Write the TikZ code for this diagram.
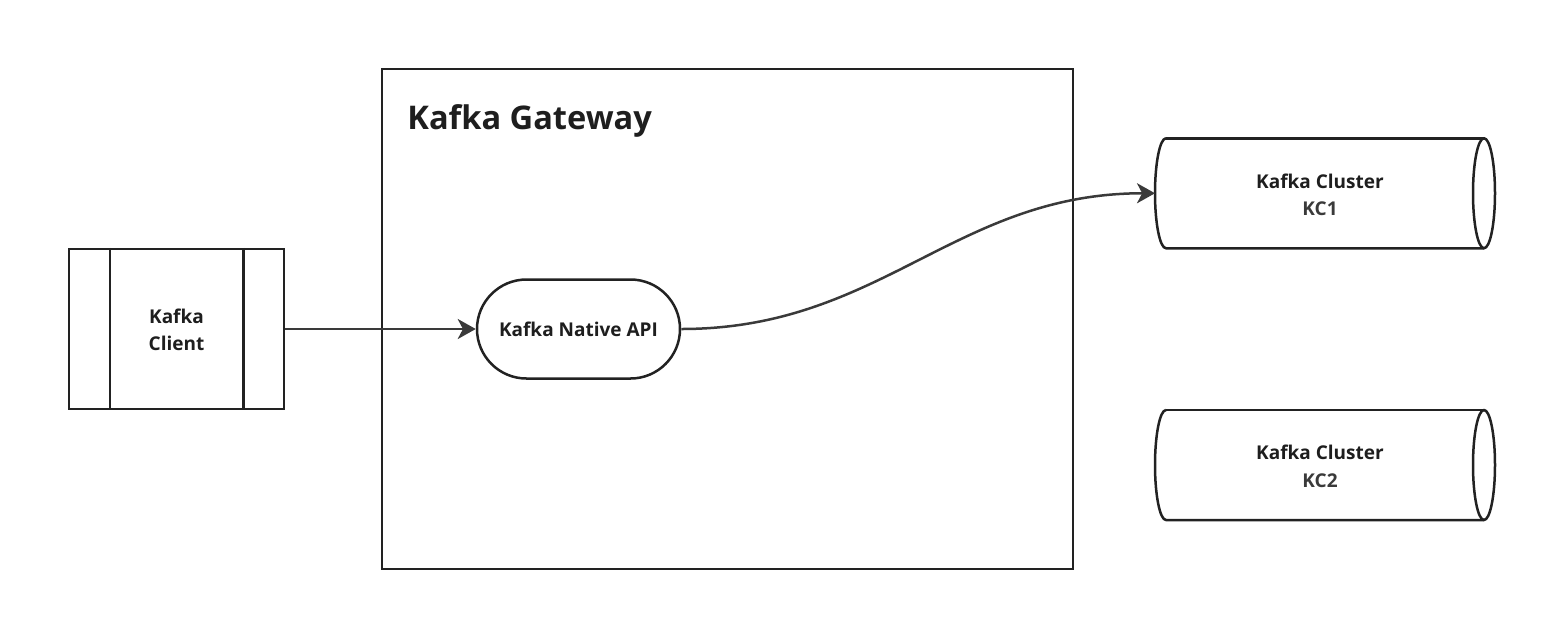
\documentclass[tikz,border=0pt]{standalone}
\usepackage{fontspec}
\setmainfont{Open Sans}
\usetikzlibrary{shapes.misc,arrows.meta,calc}
\definecolor{ink}{HTML}{222222}
\definecolor{txt}{HTML}{1E1E1E}
\definecolor{sub}{HTML}{3A3A3A}
\tikzset{
  box/.style={draw=ink,line width=1.25pt,fill=white},
  lbl/.style={font=\fontsize{9.5pt}{13.75pt}\selectfont\bfseries,text=txt,align=center},
  cylarea/.style={minimum width=170pt,minimum height=55pt,inner sep=0pt,outer sep=0pt},
  conn/.style={draw=sub,line width=1.25pt,-{Stealth[length=9pt,width=10pt,inset=2.6pt]}},
  cylpath/.style={draw=ink,line width=1.25pt,line join=round}
}
\newcommand{\drawcyl}[1]{%
  \draw[cylpath] ($(#1.north west)+(11,0)$) arc[start angle=90,end angle=270,x radius=5.5pt,y radius=27.5pt]
    -- ($(#1.south east)+(-11,0)$);
  \draw[cylpath] ($(#1.north west)+(11,0)$) -- ($(#1.north east)+(-11,0)$);
  \draw[cylpath] ($(#1.east)+(-11,0)$) ellipse[x radius=5.5pt,y radius=27.5pt];
}
\begin{document}
\begin{tikzpicture}[x=0.5pt,y=-0.5pt]
\useasboundingbox (0,0) rectangle (1564,639);
% gateway
\node[box,minimum width=345.5pt,minimum height=250pt,inner sep=0pt] (gw) at (727.5,319) {};
\node[anchor=base west,font=\fontsize{16.3pt}{19pt}\selectfont\bfseries,text=txt,inner sep=0pt] (gwt) at (407,129) {Kafka Gateway};
% client
\node[box,minimum width=107.5pt,minimum height=80pt,inner sep=0pt] (client) at (176.5,329) {};
\draw[ink,line width=1.25pt] ($(client.north west)+(42,0)$) -- ($(client.south west)+(42,0)$);
\draw[ink,line width=1.25pt] ($(client.north east)+(-42,0)$) -- ($(client.south east)+(-42,0)$);
\node[lbl] (clientt) at (176.5,330) {Kafka\\Client};
% API
\node[box,rounded rectangle,minimum width=101.5pt,minimum height=49.5pt,inner sep=0pt,lbl] (api) at (578.5,329) {Kafka Native API};
% clusters
\node[cylarea] (kc1) at (1325,193.25) {};
\drawcyl{kc1}
\node[lbl] (kc1t) at (1320,195) {Kafka Cluster\\\textcolor{sub}{KC1}};
\node[cylarea] (kc2) at (1325,465) {};
\drawcyl{kc2}
\node[lbl] (kc2t) at (1320,466.5) {Kafka Cluster\\\textcolor{sub}{KC2}};
% connectors
\draw[conn] (client.east) -- (api.west);
\draw[conn] (api.east) .. controls +(200,0) and +(-200,0) .. (kc1.west);
\end{tikzpicture}
\end{document}
